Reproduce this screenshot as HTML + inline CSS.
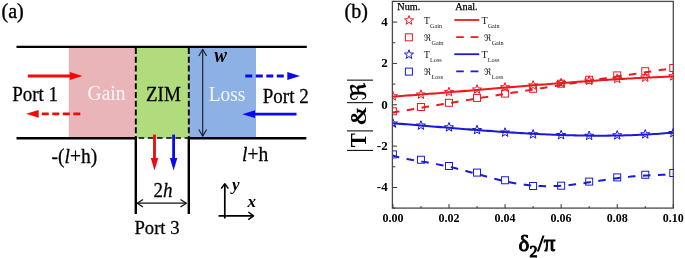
<!DOCTYPE html>
<html lang="en"><head><meta charset="utf-8"><title>Figure</title>
<style>html,body{margin:0;padding:0;background:#fff;}svg{display:block}text{font-family:"Liberation Serif","DejaVu Serif",serif;}.fr{font-family:"DejaVu Sans",sans-serif;}</style></head><body>
<svg width="685" height="258" viewBox="0 0 685 258">
<rect width="685" height="258" fill="#fff"/>
<g id="panel-a" stroke-linejoin="round">
<text x="1.5" y="18" font-size="20" stroke="#000" stroke-width="0.35">(a)</text>
<rect x="68.8" y="47" width="66.7" height="91" fill="#e9b5b8"/>
<rect x="135.5" y="47" width="53.5" height="91" fill="#b1dc7e"/>
<rect x="189" y="47" width="67" height="90.5" fill="#8db1e4"/>
<g stroke="#000" stroke-width="2.4" fill="none">
<path d="M16.5 46.9H306.8" stroke-width="2.3"/>
<path d="M16.5 138.3H135.8V214"/>
<path d="M306.3 138.3H188.8V214"/>
</g>
<g stroke="#000" stroke-width="1.9" fill="none" stroke-dasharray="6 2.8">
<path d="M135.8 48V138"/>
<path d="M188.8 48V138"/>
<path d="M138.6 137.9H188.5" stroke-width="1.5" stroke-dasharray="5.6 3.6"/>
</g>
<g stroke="#1c2233" stroke-width="1.2" fill="none">
<path d="M202.7 49.5V136"/>
<path d="M198.8 56L202.7 49.3L206.6 56"/>
<path d="M198.8 129.5L202.7 136.2L206.6 129.5"/>
</g>
<text transform="translate(0 61.8) scale(1 1.05) translate(0 -61.8)" x="214.3" y="61.8" font-size="19" font-weight="bold" font-style="italic">w</text>
<text transform="translate(0 101.5) scale(1 1.05) translate(0 -101.5)" x="12.2" y="101.5" font-size="19" stroke="#000" stroke-width="0.25">Port 1</text>
<text transform="translate(0 102.8) scale(1 1.05) translate(0 -102.8)" x="262.8" y="102.8" font-size="19" stroke="#000" stroke-width="0.25">Port 2</text>
<text transform="translate(0 100.0) scale(1 1.05) translate(0 -100.0)" x="87.6" y="100" font-size="19.5" fill="#fff" fill-opacity="0.88">Gain</text>
<text transform="translate(0 101.5) scale(1 1.05) translate(0 -101.5)" x="146" y="101.5" font-size="19" stroke="#000" stroke-width="0.25">ZIM</text>
<text transform="translate(0 100.7) scale(1 1.05) translate(0 -100.7)" x="208.8" y="100.7" font-size="19.3" fill="#fff" fill-opacity="0.88">Loss</text>
<text transform="translate(0 163.3) scale(1 1.05) translate(0 -163.3)" x="51.5" y="163.3" font-size="19.5" stroke="#000" stroke-width="0.25">-(<tspan font-style="italic">l</tspan>+h)</text>
<text transform="translate(0 161.2) scale(1 1.05) translate(0 -161.2)" x="242" y="161.2" font-size="19.5" stroke="#000" stroke-width="0.25"><tspan font-style="italic">l</tspan>+h</text>
<text transform="translate(0 197.0) scale(1 1.05) translate(0 -197.0)" x="153.5" y="197" font-size="19" stroke="#000" stroke-width="0.25">2<tspan font-style="italic">h</tspan></text>
<text transform="translate(0 234.5) scale(1 1.05) translate(0 -234.5)" x="134.4" y="234.5" font-size="18.7" stroke="#000" stroke-width="0.25">Port 3</text>
<path d="M27.8 76H70.80" stroke="#f00a0a" stroke-width="2.8" fill="none"/>
<path d="M82.5 76L69.8 72.1L69.8 79.9Z" fill="#f00a0a"/>
<path d="M80.3 113.8H41.20" stroke="#f00a0a" stroke-width="2.8" fill="none" stroke-dasharray="7 3.5"/>
<path d="M26 113.8L38.7 109.89999999999999L38.7 117.7Z" fill="#f00a0a"/>
<path d="M245.3 76H284.80" stroke="#0a0af0" stroke-width="2.8" fill="none" stroke-dasharray="7 3.5"/>
<path d="M300 76L287.3 72.1L287.3 79.9Z" fill="#0a0af0"/>
<path d="M296.5 114.2H254.00" stroke="#0a0af0" stroke-width="2.8" fill="none"/>
<path d="M242.3 114.2L255.0 110.3L255.0 118.10000000000001Z" fill="#0a0af0"/>
<path d="M154.5 134.6V159.1" stroke="#f00a0a" stroke-width="2.8" fill="none"/>
<path d="M154.5 170.6L150.8 158.1L158.2 158.1Z" fill="#f00a0a"/>
<path d="M173.6 134.6V159.1" stroke="#0a0af0" stroke-width="2.8" fill="none"/>
<path d="M173.6 170.6L169.9 158.1L177.29999999999998 158.1Z" fill="#0a0af0"/>
<g stroke="#111" stroke-width="1.3" fill="none">
<path d="M137.3 203.2H186.3"/>
<path d="M143 199.5L137.3 203.2L143 207"/>
<path d="M180.5 199.5L186.3 203.2L180.5 207"/>
</g>
<g stroke="#000" stroke-width="1.7" fill="none">
<path d="M224.8 184.5V218.5"/>
<path d="M218.5 215.8H253"/>
<path d="M221.2 188.6L224.8 183.8L228.4 188.6" stroke-width="1.5"/>
<path d="M248.3 212L253.6 215.8L248.3 219.6" stroke-width="1.5"/>
</g>
<text x="232" y="190" font-size="17" font-weight="bold" font-style="italic">y</text>
<text x="247.5" y="207" font-size="17" font-weight="bold" font-style="italic">x</text>
</g>
<g id="panel-b">
<text x="344.5" y="18" font-size="20" stroke="#000" stroke-width="0.35">(b)</text>
<rect x="392.4" y="1.4" width="280.9" height="206.7" fill="none" stroke="#4a4a4a" stroke-width="1.3"/>
<path d="M392.9 208.10h2.4M392.9 187.43h4.2M392.9 166.76h2.4M392.9 146.09h4.2M392.9 125.42h2.4M392.9 104.75h4.2M392.9 84.08h2.4M392.9 63.41h4.2M392.9 42.74h2.4M392.9 22.07h4.2M392.9 1.40h2.4M392.90 208.1v-4.0M420.94 208.1v-2.0M448.98 208.1v-4.0M477.02 208.1v-2.0M505.06 208.1v-4.0M533.10 208.1v-2.0M561.14 208.1v-4.0M589.18 208.1v-2.0M617.22 208.1v-4.0M645.26 208.1v-2.0M673.30 208.1v-4.0" stroke="#333" stroke-width="1" fill="none"/>
<g font-size="13" font-weight="bold" text-anchor="end">
<text x="387.7" y="25.8">4</text>
<text x="387.7" y="67.1">2</text>
<text x="387.7" y="108.5">0</text>
<text x="387.7" y="149.8">-2</text>
<text x="387.7" y="191.1">-4</text>
</g>
<g font-size="12" font-weight="bold" text-anchor="middle">
<text x="392.9" y="221.5">0.00</text>
<text x="449.0" y="221.5">0.02</text>
<text x="505.1" y="221.5">0.04</text>
<text x="561.1" y="221.5">0.06</text>
<text x="617.2" y="221.5">0.08</text>
<text x="673.3" y="221.5">0.10</text>
</g>
<text x="518.6" y="251.2" font-size="23" stroke="#000" stroke-width="0.9">δ<tspan font-size="16" dy="5.4">2</tspan><tspan dy="-5.4">/π</tspan></text>
<text transform="translate(366.90000000000003 152.4) rotate(-90) scale(1 1.38)" font-size="21" font-weight="normal">|</text>
<text transform="translate(365.8 147.2) rotate(-90) scale(1 1.07)" font-size="21" font-weight="bold">T</text>
<text transform="translate(366.90000000000003 133.1) rotate(-90) scale(1 1.38)" font-size="21" font-weight="normal">|</text>
<text transform="translate(365.8 125.6) rotate(-90) scale(1.1 1.08)" font-size="21" font-weight="bold">&amp;</text>
<text transform="translate(366.90000000000003 104.8) rotate(-90) scale(1 1.38)" font-size="21" font-weight="normal">|</text>
<text class="fr" transform="translate(365.8 100.9) rotate(-90) scale(1.2 1.15)" font-size="19" font-weight="bold">ℜ</text>
<text transform="translate(366.90000000000003 82.3) rotate(-90) scale(1 1.38)" font-size="21" font-weight="normal">|</text>
<clipPath id="cp"><rect x="392.9" y="1.4" width="281.0" height="206.7"/></clipPath>
<g clip-path="url(#cp)" fill="none" stroke-width="2.05">
<path d="M392.90 96.60 L395.70 96.40 L398.51 96.20 L401.31 95.99 L404.12 95.79 L406.92 95.58 L409.72 95.37 L412.53 95.16 L415.33 94.94 L418.14 94.73 L420.94 94.51 L423.74 94.29 L426.55 94.08 L429.35 93.85 L432.16 93.63 L434.96 93.41 L437.76 93.18 L440.57 92.96 L443.37 92.73 L446.18 92.51 L448.98 92.28 L451.78 92.05 L454.59 91.82 L457.39 91.59 L460.20 91.36 L463.00 91.12 L465.80 90.89 L468.61 90.66 L471.41 90.42 L474.22 90.19 L477.02 89.96 L479.82 89.72 L482.63 89.49 L485.43 89.25 L488.24 89.02 L491.04 88.78 L493.84 88.55 L496.65 88.31 L499.45 88.08 L502.26 87.84 L505.06 87.61 L507.86 87.38 L510.67 87.14 L513.47 86.91 L516.28 86.68 L519.08 86.45 L521.88 86.22 L524.69 85.99 L527.49 85.76 L530.30 85.53 L533.10 85.30 L535.90 85.08 L538.71 84.85 L541.51 84.63 L544.32 84.40 L547.12 84.18 L549.92 83.96 L552.73 83.74 L555.53 83.52 L558.34 83.31 L561.14 83.09 L563.94 82.88 L566.75 82.67 L569.55 82.46 L572.36 82.25 L575.16 82.04 L577.96 81.84 L580.77 81.64 L583.57 81.44 L586.38 81.24 L589.18 81.04 L591.98 80.85 L594.79 80.66 L597.59 80.47 L600.40 80.28 L603.20 80.10 L606.00 79.92 L608.81 79.74 L611.61 79.56 L614.42 79.39 L617.22 79.22 L620.02 79.05 L622.83 78.88 L625.63 78.72 L628.44 78.56 L631.24 78.40 L634.04 78.25 L636.85 78.10 L639.65 77.95 L642.46 77.81 L645.26 77.67 L648.06 77.53 L650.87 77.40 L653.67 77.27 L656.48 77.15 L659.28 77.02 L662.08 76.91 L664.89 76.79 L667.69 76.68 L670.50 76.57 L673.30 76.47" stroke="#ea1a1e"/>
<path d="M392.90 112.57 L395.70 112.09 L398.51 111.61 L401.31 111.13 L404.12 110.65 L406.92 110.18 L409.72 109.70 L412.53 109.23 L415.33 108.75 L418.14 108.28 L420.94 107.81 L423.74 107.33 L426.55 106.86 L429.35 106.39 L432.16 105.92 L434.96 105.45 L437.76 104.98 L440.57 104.52 L443.37 104.05 L446.18 103.58 L448.98 103.12 L451.78 102.65 L454.59 102.19 L457.39 101.72 L460.20 101.26 L463.00 100.80 L465.80 100.34 L468.61 99.88 L471.41 99.42 L474.22 98.96 L477.02 98.50 L479.82 98.04 L482.63 97.58 L485.43 97.13 L488.24 96.67 L491.04 96.22 L493.84 95.76 L496.65 95.31 L499.45 94.86 L502.26 94.41 L505.06 93.95 L507.86 93.50 L510.67 93.05 L513.47 92.60 L516.28 92.16 L519.08 91.71 L521.88 91.26 L524.69 90.82 L527.49 90.37 L530.30 89.92 L533.10 89.48 L535.90 89.04 L538.71 88.59 L541.51 88.15 L544.32 87.71 L547.12 87.27 L549.92 86.83 L552.73 86.39 L555.53 85.95 L558.34 85.52 L561.14 85.08 L563.94 84.64 L566.75 84.21 L569.55 83.77 L572.36 83.34 L575.16 82.91 L577.96 82.47 L580.77 82.04 L583.57 81.61 L586.38 81.18 L589.18 80.75 L591.98 80.32 L594.79 79.89 L597.59 79.47 L600.40 79.04 L603.20 78.61 L606.00 78.19 L608.81 77.76 L611.61 77.34 L614.42 76.92 L617.22 76.49 L620.02 76.07 L622.83 75.65 L625.63 75.23 L628.44 74.81 L631.24 74.39 L634.04 73.97 L636.85 73.56 L639.65 73.14 L642.46 72.72 L645.26 72.31 L648.06 71.89 L650.87 71.48 L653.67 71.07 L656.48 70.65 L659.28 70.24 L662.08 69.83 L664.89 69.42 L667.69 69.01 L670.50 68.60 L673.30 68.19" stroke="#ea1a1e" stroke-width="2" stroke-dasharray="7.5 7.5" stroke-dashoffset="0.9"/>
<path d="M392.90 123.21 L395.70 123.43 L398.51 123.66 L401.31 123.88 L404.12 124.11 L406.92 124.33 L409.72 124.56 L412.53 124.79 L415.33 125.02 L418.14 125.25 L420.94 125.48 L423.74 125.72 L426.55 125.95 L429.35 126.18 L432.16 126.42 L434.96 126.65 L437.76 126.88 L440.57 127.11 L443.37 127.35 L446.18 127.58 L448.98 127.81 L451.78 128.04 L454.59 128.27 L457.39 128.49 L460.20 128.72 L463.00 128.95 L465.80 129.17 L468.61 129.39 L471.41 129.61 L474.22 129.83 L477.02 130.05 L479.82 130.26 L482.63 130.48 L485.43 130.69 L488.24 130.89 L491.04 131.10 L493.84 131.30 L496.65 131.50 L499.45 131.70 L502.26 131.89 L505.06 132.08 L507.86 132.27 L510.67 132.45 L513.47 132.63 L516.28 132.80 L519.08 132.97 L521.88 133.14 L524.69 133.31 L527.49 133.47 L530.30 133.62 L533.10 133.77 L535.90 133.92 L538.71 134.06 L541.51 134.19 L544.32 134.32 L547.12 134.45 L549.92 134.57 L552.73 134.68 L555.53 134.79 L558.34 134.90 L561.14 134.99 L563.94 135.08 L566.75 135.17 L569.55 135.25 L572.36 135.32 L575.16 135.39 L577.96 135.45 L580.77 135.50 L583.57 135.55 L586.38 135.59 L589.18 135.62 L591.98 135.64 L594.79 135.66 L597.59 135.67 L600.40 135.67 L603.20 135.67 L606.00 135.65 L608.81 135.63 L611.61 135.60 L614.42 135.56 L617.22 135.52 L620.02 135.46 L622.83 135.40 L625.63 135.32 L628.44 135.24 L631.24 135.15 L634.04 135.05 L636.85 134.94 L639.65 134.82 L642.46 134.70 L645.26 134.56 L648.06 134.41 L650.87 134.25 L653.67 134.08 L656.48 133.91 L659.28 133.72 L662.08 133.52 L664.89 133.31 L667.69 133.09 L670.50 132.86 L673.30 132.62" stroke="#1a1ad8"/>
<path d="M392.90 155.56 L395.70 156.41 L398.51 157.16 L401.31 157.83 L404.12 158.45 L406.92 159.01 L409.72 159.53 L412.53 160.02 L415.33 160.49 L418.14 160.95 L420.94 161.41 L423.74 161.87 L426.55 162.34 L429.35 162.82 L432.16 163.32 L434.96 163.83 L437.76 164.37 L440.57 164.93 L443.37 165.51 L446.18 166.11 L448.98 166.74 L451.78 167.39 L454.59 168.07 L457.39 168.76 L460.20 169.47 L463.00 170.20 L465.80 170.95 L468.61 171.70 L471.41 172.47 L474.22 173.24 L477.02 174.01 L479.82 174.79 L482.63 175.56 L485.43 176.32 L488.24 177.08 L491.04 177.82 L493.84 178.55 L496.65 179.26 L499.45 179.95 L502.26 180.61 L505.06 181.24 L507.86 181.85 L510.67 182.42 L513.47 182.96 L516.28 183.46 L519.08 183.93 L521.88 184.35 L524.69 184.73 L527.49 185.07 L530.30 185.37 L533.10 185.62 L535.90 185.82 L538.71 185.98 L541.51 186.10 L544.32 186.17 L547.12 186.20 L549.92 186.18 L552.73 186.12 L555.53 186.02 L558.34 185.89 L561.14 185.71 L563.94 185.49 L566.75 185.25 L569.55 184.97 L572.36 184.66 L575.16 184.33 L577.96 183.97 L580.77 183.59 L583.57 183.19 L586.38 182.78 L589.18 182.35 L591.98 181.92 L594.79 181.48 L597.59 181.04 L600.40 180.61 L603.20 180.17 L606.00 179.74 L608.81 179.33 L611.61 178.92 L614.42 178.53 L617.22 178.16 L620.02 177.80 L622.83 177.47 L625.63 177.16 L628.44 176.87 L631.24 176.60 L634.04 176.36 L636.85 176.14 L639.65 175.95 L642.46 175.77 L645.26 175.61 L648.06 175.47 L650.87 175.33 L653.67 175.20 L656.48 175.08 L659.28 174.94 L662.08 174.80 L664.89 174.63 L667.69 174.43 L670.50 174.18 L673.30 173.88" stroke="#1a1ad8" stroke-width="2" stroke-dasharray="7.5 7.5" stroke-dashoffset="0.9"/>
</g>
<g clip-path="url(#cp)" fill="none" stroke-width="1">
<polygon points="392.90,91.50 394.08,94.68 397.47,94.82 394.80,96.92 395.72,100.18 392.90,98.30 390.08,100.18 391.00,96.92 388.33,94.82 391.72,94.68" stroke="#ea1a1e"/>
<polygon points="420.94,89.80 422.12,92.98 425.51,93.12 422.84,95.22 423.76,98.48 420.94,96.60 418.12,98.48 419.04,95.22 416.37,93.12 419.76,92.98" stroke="#ea1a1e"/>
<polygon points="448.98,87.20 450.16,90.38 453.55,90.52 450.88,92.62 451.80,95.88 448.98,94.00 446.16,95.88 447.08,92.62 444.41,90.52 447.80,90.38" stroke="#ea1a1e"/>
<polygon points="477.02,84.70 478.20,87.88 481.59,88.02 478.92,90.12 479.84,93.38 477.02,91.50 474.20,93.38 475.12,90.12 472.45,88.02 475.84,87.88" stroke="#ea1a1e"/>
<polygon points="505.06,82.50 506.24,85.68 509.63,85.82 506.96,87.92 507.88,91.18 505.06,89.30 502.24,91.18 503.16,87.92 500.49,85.82 503.88,85.68" stroke="#ea1a1e"/>
<polygon points="533.10,80.60 534.28,83.78 537.67,83.92 535.00,86.02 535.92,89.28 533.10,87.40 530.28,89.28 531.20,86.02 528.53,83.92 531.92,83.78" stroke="#ea1a1e"/>
<polygon points="561.14,78.25 562.32,81.43 565.71,81.57 563.04,83.67 563.96,86.93 561.14,85.05 558.32,86.93 559.24,83.67 556.57,81.57 559.96,81.43" stroke="#ea1a1e"/>
<polygon points="589.18,75.90 590.36,79.08 593.75,79.22 591.08,81.32 592.00,84.58 589.18,82.70 586.36,84.58 587.28,81.32 584.61,79.22 588.00,79.08" stroke="#ea1a1e"/>
<polygon points="617.22,74.10 618.40,77.28 621.79,77.42 619.12,79.52 620.04,82.78 617.22,80.90 614.40,82.78 615.32,79.52 612.65,77.42 616.04,77.28" stroke="#ea1a1e"/>
<polygon points="645.26,72.70 646.44,75.88 649.83,76.02 647.16,78.12 648.08,81.38 645.26,79.50 642.44,81.38 643.36,78.12 640.69,76.02 644.08,75.88" stroke="#ea1a1e"/>
<polygon points="673.30,71.50 674.48,74.68 677.87,74.82 675.20,76.92 676.12,80.18 673.30,78.30 670.48,80.18 671.40,76.92 668.73,74.82 672.12,74.68" stroke="#ea1a1e"/>
<polygon points="392.90,118.75 394.08,121.93 397.47,122.07 394.80,124.17 395.72,127.43 392.90,125.55 390.08,127.43 391.00,124.17 388.33,122.07 391.72,121.93" stroke="#1a1ad8"/>
<polygon points="420.94,120.75 422.12,123.93 425.51,124.07 422.84,126.17 423.76,129.43 420.94,127.55 418.12,129.43 419.04,126.17 416.37,124.07 419.76,123.93" stroke="#1a1ad8"/>
<polygon points="448.98,122.50 450.16,125.68 453.55,125.82 450.88,127.92 451.80,131.18 448.98,129.30 446.16,131.18 447.08,127.92 444.41,125.82 447.80,125.68" stroke="#1a1ad8"/>
<polygon points="477.02,125.25 478.20,128.43 481.59,128.57 478.92,130.67 479.84,133.93 477.02,132.05 474.20,133.93 475.12,130.67 472.45,128.57 475.84,128.43" stroke="#1a1ad8"/>
<polygon points="505.06,127.75 506.24,130.93 509.63,131.07 506.96,133.17 507.88,136.43 505.06,134.55 502.24,136.43 503.16,133.17 500.49,131.07 503.88,130.93" stroke="#1a1ad8"/>
<polygon points="533.10,129.50 534.28,132.68 537.67,132.82 535.00,134.92 535.92,138.18 533.10,136.30 530.28,138.18 531.20,134.92 528.53,132.82 531.92,132.68" stroke="#1a1ad8"/>
<polygon points="561.14,130.25 562.32,133.43 565.71,133.57 563.04,135.67 563.96,138.93 561.14,137.05 558.32,138.93 559.24,135.67 556.57,133.57 559.96,133.43" stroke="#1a1ad8"/>
<polygon points="589.18,131.00 590.36,134.18 593.75,134.32 591.08,136.42 592.00,139.68 589.18,137.80 586.36,139.68 587.28,136.42 584.61,134.32 588.00,134.18" stroke="#1a1ad8"/>
<polygon points="617.22,130.50 618.40,133.68 621.79,133.82 619.12,135.92 620.04,139.18 617.22,137.30 614.40,139.18 615.32,135.92 612.65,133.82 616.04,133.68" stroke="#1a1ad8"/>
<polygon points="645.26,129.50 646.44,132.68 649.83,132.82 647.16,134.92 648.08,138.18 645.26,136.30 642.44,138.18 643.36,134.92 640.69,132.82 644.08,132.68" stroke="#1a1ad8"/>
<polygon points="673.30,128.25 674.48,131.43 677.87,131.57 675.20,133.67 676.12,136.93 673.30,135.05 670.48,136.93 671.40,133.67 668.73,131.57 672.12,131.43" stroke="#1a1ad8"/>
<rect x="389.40" y="107.80" width="7" height="7" stroke="#ea1a1e"/>
<rect x="417.44" y="103.50" width="7" height="7" stroke="#ea1a1e"/>
<rect x="445.48" y="99.30" width="7" height="7" stroke="#ea1a1e"/>
<rect x="473.52" y="94.40" width="7" height="7" stroke="#ea1a1e"/>
<rect x="501.56" y="90.10" width="7" height="7" stroke="#ea1a1e"/>
<rect x="529.60" y="85.30" width="7" height="7" stroke="#ea1a1e"/>
<rect x="557.64" y="80.20" width="7" height="7" stroke="#ea1a1e"/>
<rect x="585.68" y="76.25" width="7" height="7" stroke="#ea1a1e"/>
<rect x="613.72" y="71.90" width="7" height="7" stroke="#ea1a1e"/>
<rect x="641.76" y="67.70" width="7" height="7" stroke="#ea1a1e"/>
<rect x="669.80" y="64.50" width="7" height="7" stroke="#ea1a1e"/>
<rect x="389.40" y="150.90" width="7" height="7" stroke="#1a1ad8"/>
<rect x="417.44" y="156.25" width="7" height="7" stroke="#1a1ad8"/>
<rect x="445.48" y="162.50" width="7" height="7" stroke="#1a1ad8"/>
<rect x="473.52" y="169.10" width="7" height="7" stroke="#1a1ad8"/>
<rect x="501.56" y="176.75" width="7" height="7" stroke="#1a1ad8"/>
<rect x="529.60" y="182.50" width="7" height="7" stroke="#1a1ad8"/>
<rect x="557.64" y="182.20" width="7" height="7" stroke="#1a1ad8"/>
<rect x="585.68" y="178.10" width="7" height="7" stroke="#1a1ad8"/>
<rect x="613.72" y="173.90" width="7" height="7" stroke="#1a1ad8"/>
<rect x="641.76" y="171.25" width="7" height="7" stroke="#1a1ad8"/>
<rect x="669.80" y="169.50" width="7" height="7" stroke="#1a1ad8"/>
</g>
<g id="legend">
<text x="397.3" y="10.3" font-size="10.2" stroke="#000" stroke-width="0.25">Num.</text>
<text x="455.2" y="10.3" font-size="10.2" stroke="#000" stroke-width="0.25">Anal.</text>
<polygon points="409.00,15.60 410.18,18.78 413.57,18.92 410.90,21.02 411.82,24.28 409.00,22.40 406.18,24.28 407.10,21.02 404.43,18.92 407.82,18.78" fill="none" stroke="#ea1a1e" stroke-width="1"/>
<path d="M454.3 20.0H479.2" stroke="#ea1a1e" stroke-width="1.8" fill="none"/>
<text x="423.8" y="23.6" font-size="10.2" fill="#222">T<tspan font-size="6.2" dy="4">Gain</tspan></text>
<text x="481.4" y="23.6" font-size="10.2" fill="#222">T<tspan font-size="6.2" dy="4">Gain</tspan></text>
<rect x="405.4" y="33.8" width="7" height="7" fill="none" stroke="#ea1a1e" stroke-width="1"/>
<path d="M456.2 37.1h7.6M470.6 37.1h7.8" stroke="#ea1a1e" stroke-width="1.8" fill="none"/>
<text x="423.8" y="40.9" font-size="9" fill="#222"><tspan class="fr">ℜ</tspan><tspan font-size="6.2" dy="4" dx="0.3">Gain</tspan></text>
<text x="484.0" y="40.9" font-size="9" fill="#222"><tspan class="fr">ℜ</tspan><tspan font-size="6.2" dy="4" dx="0.3">Gain</tspan></text>
<polygon points="409.00,49.80 410.18,52.98 413.57,53.12 410.90,55.22 411.82,58.48 409.00,56.60 406.18,58.48 407.10,55.22 404.43,53.12 407.82,52.98" fill="none" stroke="#1a1ad8" stroke-width="1"/>
<path d="M454.3 54.2H479.2" stroke="#1a1ad8" stroke-width="1.8" fill="none"/>
<text x="423.8" y="57.8" font-size="10.2" fill="#222">T<tspan font-size="6.2" dy="4">Loss</tspan></text>
<text x="481.4" y="57.8" font-size="10.2" fill="#222">T<tspan font-size="6.2" dy="4">Loss</tspan></text>
<rect x="405.4" y="68.1" width="7" height="7" fill="none" stroke="#1a1ad8" stroke-width="1"/>
<path d="M456.2 71.4h7.6M470.6 71.4h7.8" stroke="#1a1ad8" stroke-width="1.8" fill="none"/>
<text x="423.8" y="75.2" font-size="9" fill="#222"><tspan class="fr">ℜ</tspan><tspan font-size="6.2" dy="4" dx="0.3">Loss</tspan></text>
<text x="484.0" y="75.2" font-size="9" fill="#222"><tspan class="fr">ℜ</tspan><tspan font-size="6.2" dy="4" dx="0.3">Loss</tspan></text>
</g>
</g>
</svg></body></html>
